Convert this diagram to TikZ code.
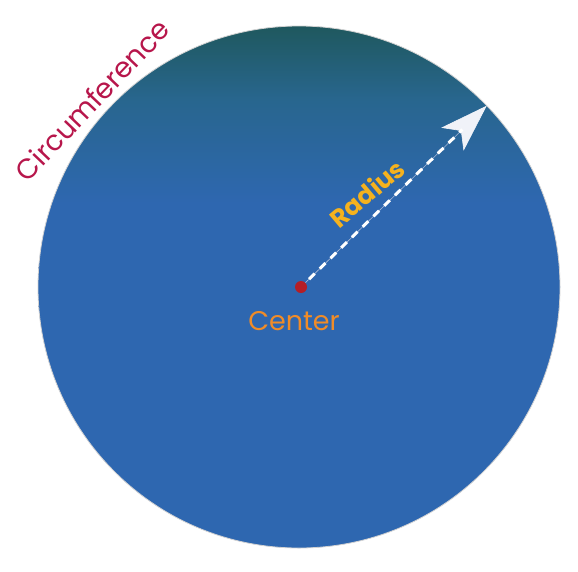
\documentclass[tikz,border=0pt]{standalone}
\usepackage{fontspec}
\setmainfont{Poppins}
\usetikzlibrary{arrows.meta}
\definecolor{disctop}{RGB}{31,88,94}
\definecolor{discmid}{RGB}{40,102,142}
\definecolor{discbot}{RGB}{46,103,176}
\definecolor{dotred}{RGB}{180,30,38}
\definecolor{centerorange}{RGB}{240,140,40}
\definecolor{radiusyellow}{RGB}{245,178,30}
\definecolor{circred}{RGB}{183,22,75}
\definecolor{shaftline}{RGB}{170,185,215}
\definecolor{headwhite}{RGB}{240,242,248}
\pgfdeclareverticalshading{discshade}{100bp}{color(0bp)=(discbot); color(58bp)=(discbot); color(68bp)=(discmid); color(75bp)=(disctop); color(100bp)=(disctop)}
\begin{document}
\begin{tikzpicture}[
    x=1pt, y=-1pt,
    disc/.style={circle, minimum size=522pt, inner sep=0pt, outer sep=0pt, shading=discshade, draw=gray!35, line width=0.8pt},
    dot/.style={circle, fill=dotred, minimum size=12pt, inner sep=0pt},
    word/.style={inner sep=0pt}
]
\useasboundingbox (0,0) rectangle (578,571);

% Circle
\node[disc] (disc) at (299,287) {};

% Center point
\node[dot] (ctr) at (301,287) {};
\node[word, text=centerorange, font=\fontsize{27}{32}\selectfont] (ctrlabel) at (294,321) {Center};

% Radius arrow
\draw[shaftline, line width=0.6pt, -{Stealth[length=48pt, width=32pt, inset=12pt, color=headwhite]}] (ctr) -- (disc.44);
\draw[white, line width=3pt, dash pattern=on 8pt off 7pt, shorten >=34pt, shorten <=5pt] (ctr) -- (disc.44);
\node[word, text=radiusyellow, font=\fontsize{25}{30}\selectfont\bfseries, rotate=40] (radlabel) at (367,193) {Radius};

% Circumference
\node[word, text=circred, font=\fontsize{28}{33}\selectfont, rotate=46.5] (circlabel) at (92,100) {Circumference};

\end{tikzpicture}
\end{document}
